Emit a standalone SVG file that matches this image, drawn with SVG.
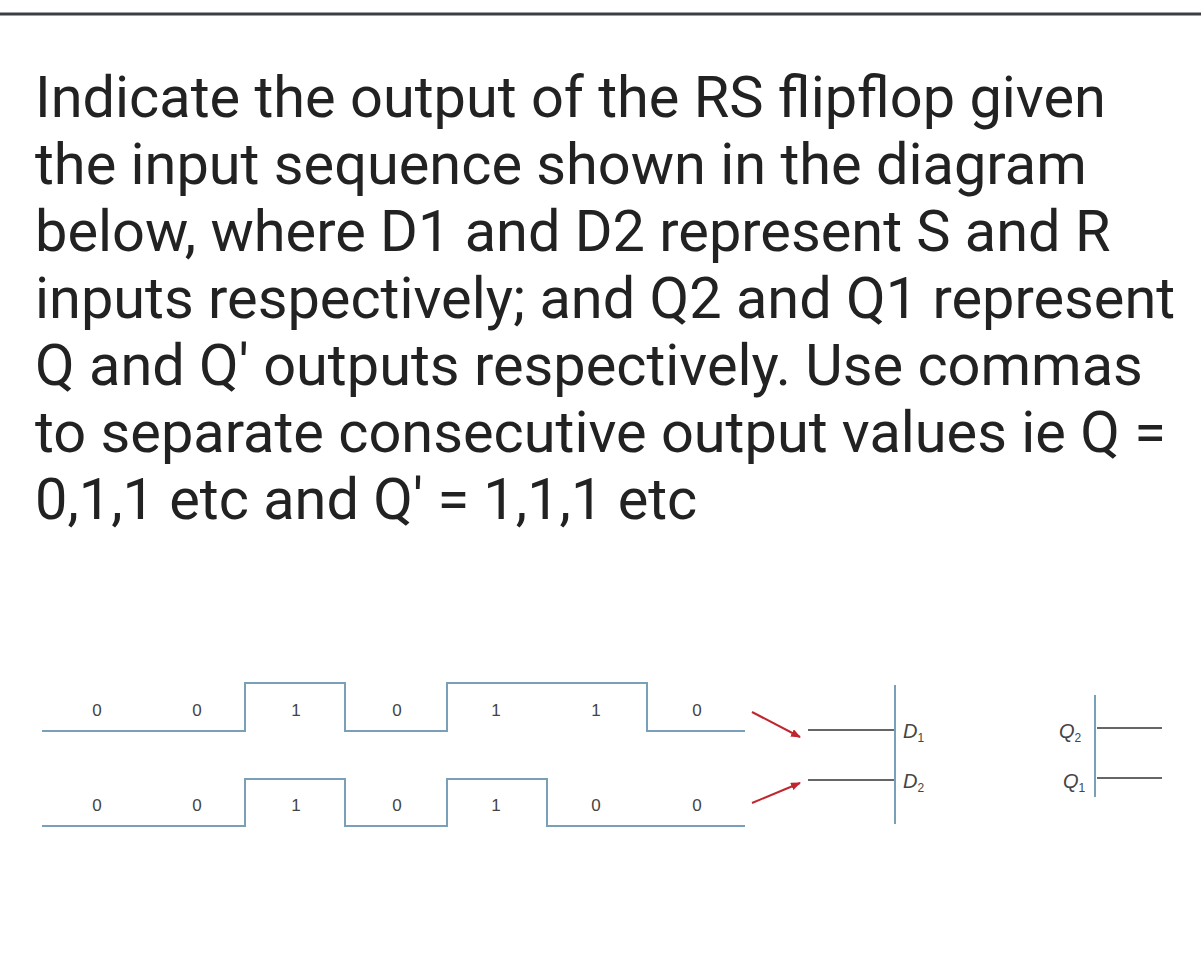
<svg xmlns="http://www.w3.org/2000/svg" width="1201" height="956" viewBox="0 0 1201 956">
<defs>
<style>
.q{font-family:Roboto,"Liberation Sans",sans-serif;font-size:57.7px;fill:#222}
.w{fill:none;stroke:#7a9fb8;stroke-width:2}
.g{fill:none;stroke:#666;stroke-width:2}
.n{font-family:"Liberation Sans",sans-serif;font-size:17px;fill:#444;text-anchor:middle}
.l{font-family:"Liberation Sans",sans-serif;font-size:20px;font-style:italic;fill:#444}
.s{font-size:12px;font-style:normal}
</style>
<marker id="ah" markerWidth="10" markerHeight="8" refX="9" refY="4" orient="auto" markerUnits="userSpaceOnUse"><path d="M0,0L10,4L0,8z" fill="#c0262d"/></marker>
</defs>
<rect width="1201" height="956" fill="#fff"/>
<line x1="0" y1="14" x2="1201" y2="14" stroke="#3a3f45" stroke-width="3"/>
<g id="question">
<text class="q" x="35" y="117">Indicate the output of the RS flipflop given</text>
<text class="q" x="35" y="184">the input sequence shown in the diagram</text>
<text class="q" x="35" y="251">below, where D1 and D2 represent S and R</text>
<text class="q" x="35" y="318">inputs respectively; and Q2 and Q1 represent</text>
<text class="q" x="35" y="385">Q and Q' outputs respectively. Use commas</text>
<text class="q" x="35" y="452">to separate consecutive output values ie Q =</text>
<text class="q" x="35" y="519">0,1,1 etc and Q' = 1,1,1 etc</text>
</g>
<g id="wave1">
<path class="w" d="M42,731H245V683H345V731H447V683H647V731H745"/>
<text class="n" x="97" y="716">0</text><text class="n" x="197" y="716">0</text><text class="n" x="296" y="716">1</text><text class="n" x="397" y="716">0</text><text class="n" x="496" y="716">1</text><text class="n" x="596" y="716">1</text><text class="n" x="697" y="716">0</text>
</g>
<g id="wave2">
<path class="w" d="M42,826H245V779H345V826H447V779H547V826H745"/>
<text class="n" x="97" y="811">0</text><text class="n" x="197" y="811">0</text><text class="n" x="296" y="811">1</text><text class="n" x="397" y="811">0</text><text class="n" x="496" y="811">1</text><text class="n" x="596" y="811">0</text><text class="n" x="697" y="811">0</text>
</g>
<g id="connectors">
<line x1="752" y1="712" x2="800" y2="737" stroke="#c0262d" stroke-width="2" marker-end="url(#ah)"/>
<line x1="752" y1="803" x2="800" y2="783" stroke="#c0262d" stroke-width="2" marker-end="url(#ah)"/>
<line class="g" x1="808" y1="730" x2="895" y2="730"/>
<line class="g" x1="808" y1="780" x2="895" y2="780"/>
<line class="g" x1="1097" y1="728" x2="1162" y2="728"/>
<line class="g" x1="1097" y1="778" x2="1162" y2="778"/>
</g>
<g id="inputs">
<line class="w" x1="895" y1="685" x2="895" y2="824"/>
<text class="l" x="903" y="738">D<tspan class="s" dy="4">1</tspan></text>
<text class="l" x="903" y="788">D<tspan class="s" dy="4">2</tspan></text>
</g>
<g id="outputs">
<line class="w" x1="1095" y1="695" x2="1095" y2="797"/>
<text class="l" x="1059" y="738">Q<tspan class="s" dy="4">2</tspan></text>
<text class="l" x="1063" y="788">Q<tspan class="s" dy="4">1</tspan></text>
</g>
</svg>
